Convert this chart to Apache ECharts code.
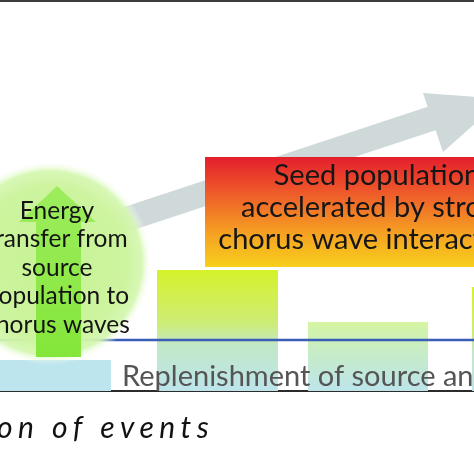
<!DOCTYPE html>
<html>
<head>
<meta charset="utf-8">
<script src="https://cdn.jsdelivr.net/npm/echarts@6/dist/echarts.min.js"></script>
<style>
html,body{margin:0;padding:0;background:#fff;}
#chart{width:474px;height:474px;}
</style>
</head>
<body>
<div id="chart"></div>
<script>
// ---- data ----
const events = ['Event 1', 'Event 2', 'Event 3', 'Event 4'];
const timeStart = [-10, 157, 308, 472];
const timeEnd = [111, 278, 428, 593];
const populationLevel = [31, 121, 69, 104];
const thresholdLevel = 51;
const thresholdSpan = [0, 474];
const leftLabel = ['Energy', 'transfer from', 'source', 'population to', 'chorus waves'];
const boxLabel = ['Seed population', 'accelerated by strong', 'chorus wave interactions'];
const baseLabel = 'Replenishment of source and';
const axisName = 'on of events';

// ---- styles ----
const FONT = 'Lato, "Open Sans", sans-serif';
const barGradients = [
  [['0', '#bde5ee'], ['1', '#bde5ee']],
  [['0', '#d5f22a'], ['0.45', '#cdec78'], ['0.62', '#c2e8c8'], ['1', '#bde4ea']],
  [['0', '#d6f5a2'], ['0.45', '#c6ecc8'], ['1', '#bde4ea']],
  [['0', '#d5f22a'], ['0.45', '#cdec78'], ['0.62', '#c2e8c8'], ['1', '#bde4ea']]
];

// wide letter spacing for the axis caption only (as in the original artwork)
(function () {
  const proto = CanvasRenderingContext2D.prototype;
  const orig = proto.fillText;
  proto.fillText = function (t, x, y, m) {
    const call = () => (m === undefined ? orig.call(this, t, x, y) : orig.call(this, t, x, y, m));
    if ('letterSpacing' in this) {
      const f = this.font;
      this.letterSpacing = (t === axisName) ? '5.5px' : '0px';
      this.font = f;
      const r = call();
      this.letterSpacing = '0px';
      this.font = f;
      return r;
    }
    return call();
  };
})();

const chart = echarts.init(document.getElementById('chart'), null, {renderer: 'canvas'});

const barData = events.map((e, i) => [timeStart[i], timeEnd[i], populationLevel[i], i]);

function renderBar(params, api) {
  const s = api.value(0), e = api.value(1), v = api.value(2), idx = api.value(3);
  const p0 = api.coord([s, v]);
  const p1 = api.coord([e, 0]);
  const stops = barGradients[idx].map(st => ({offset: +st[0], color: st[1]}));
  return {
    type: 'rect',
    shape: {x: p0[0], y: p0[1], width: p1[0] - p0[0], height: p1[1] - p0[1]},
    style: {fill: new echarts.graphic.LinearGradient(0, 0, 0, 1, stops)}
  };
}

const textEls = [];
leftLabel.forEach((t, i) => {
  textEls.push({
    type: 'text', z: 20, x: 57, y: 211 + i * 28.5,
    style: {text: t, font: '24.5px ' + FONT, fill: '#141414', align: 'center', verticalAlign: 'middle'}
  });
});
boxLabel.forEach((t, i) => {
  textEls.push({
    type: 'text', z: 20, x: 377, y: 176 + i * 32,
    style: {text: t, font: '29px ' + FONT, fill: '#161616', align: 'center', verticalAlign: 'middle'}
  });
});

const option = {
  animation: false,
  grid: {left: 0, right: 0, top: 0, bottom: 83, containLabel: false},
  xAxis: {
    type: 'value', min: 0, max: 474,
    axisLine: {show: true, onZero: false, lineStyle: {color: '#2b2b2b', width: 2}},
    axisTick: {show: false}, axisLabel: {show: false}, splitLine: {show: false}
  },
  yAxis: {
    type: 'value', min: 0, max: 391, show: false, splitLine: {show: false}
  },
  series: [
    {
      type: 'custom', z: 2,
      renderItem: renderBar,
      data: barData,
      encode: {x: [0, 1], y: 2}
    },
    {
      type: 'line', z: 3, symbol: 'none',
      lineStyle: {color: '#3a5db6', width: 2.5},
      data: [[thresholdSpan[0], thresholdLevel], [thresholdSpan[1], thresholdLevel]]
    }
  ],
  graphic: [
    {type: 'rect', z: 1, shape: {x: 0, y: 0, width: 474, height: 2}, style: {fill: '#3c3c3c'}},
    {type: 'polygon', z: 1, shape: {points: [
      [100, 215], [427.7, 106.8], [423, 93], [503, 99], [443, 152], [435.6, 130.2], [100, 241]
    ]}, style: {fill: '#cfd9d9'}},
    {type: 'ellipse', z: 4, shape: {cx: 50, cy: 263, rx: 102, ry: 108}, style: {
      fill: new echarts.graphic.RadialGradient(0.5, 0.5, 0.5, [
        {offset: 0, color: '#c6f394'},
        {offset: 0.75, color: '#cdf49f'},
        {offset: 0.9, color: 'rgba(212,247,176,0.92)'},
        {offset: 1, color: 'rgba(255,255,255,0)'}
      ])
    }},
    {type: 'polygon', z: 5, shape: {points: [
      [36, 357], [36, 222], [19, 222], [57, 186], [96, 222], [81, 222], [81, 357]
    ]}, style: {fill: new echarts.graphic.LinearGradient(0, 0, 0, 1, [
      {offset: 0, color: '#9ded5e'}, {offset: 1, color: '#84e63a'}
    ])}},
    {type: 'rect', z: 5, shape: {x: 205, y: 157, width: 280, height: 110}, style: {
      fill: new echarts.graphic.LinearGradient(0, 0, 0, 1, [
        {offset: 0, color: '#e41e2c'},
        {offset: 0.35, color: '#ef5f2a'},
        {offset: 0.7, color: '#f5a222'},
        {offset: 1, color: '#f8cf1c'}
      ])
    }},
    {type: 'text', z: 20, x: 122, y: 377, style: {
      text: baseLabel, font: '29px ' + FONT, fill: '#555555', align: 'left', verticalAlign: 'middle'
    }},
    {type: 'text', z: 20, x: -3, y: 428, style: {
      text: axisName, font: 'italic 30px ' + FONT, fill: '#111111', align: 'left', verticalAlign: 'middle'
    }}
  ].concat(textEls)
};
chart.setOption(option);
</script>
</body>
</html>
